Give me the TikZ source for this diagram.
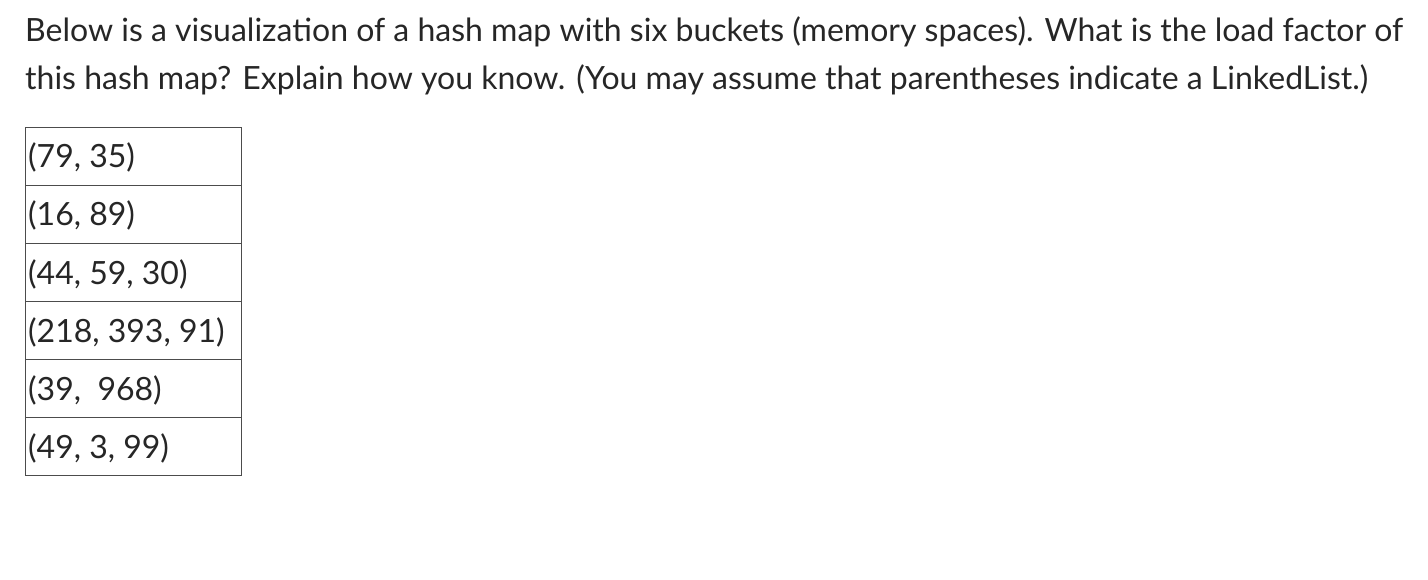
\documentclass[tikz,border=0pt]{standalone}
\usepackage{fontspec}
\setmainfont{Lato}
\begin{document}
\begin{tikzpicture}[x=1pt,y=-1pt,
  txt/.style={anchor=base west,inner sep=0pt,font=\fontsize{32}{38}\selectfont,text=black!85},
  cell/.style={draw=black!70,line width=1.2pt,minimum width=216pt,minimum height=58pt,anchor=north west,inner sep=0pt},
  celltxt/.style={anchor=base west,inner sep=0pt,font=\fontsize{32}{38}\selectfont,text=black!85}]
\useasboundingbox (0,0) rectangle (1428,580);
\node[txt] (l1) at (25,42) {Below is a visualization of a hash map with six buckets (memory spaces). What is the load factor of};
\node[txt] (l2) at (25,90) {this hash map? Explain how you know. (You may assume that parentheses indicate a LinkedList.)};
\foreach \i/\t in {0/{(79, 35)},1/{(16, 89)},2/{(44, 59, 30)},3/{(218, 393, 91)},4/{(39,\ \ 968)},5/{(49, 3, 99)}}{
  \node[cell] (c\i) at (25,{127+58*\i}) {};
  \node[celltxt] (t\i) at (28,{127+58*\i+41}) {\t};
}
\end{tikzpicture}
\end{document}
